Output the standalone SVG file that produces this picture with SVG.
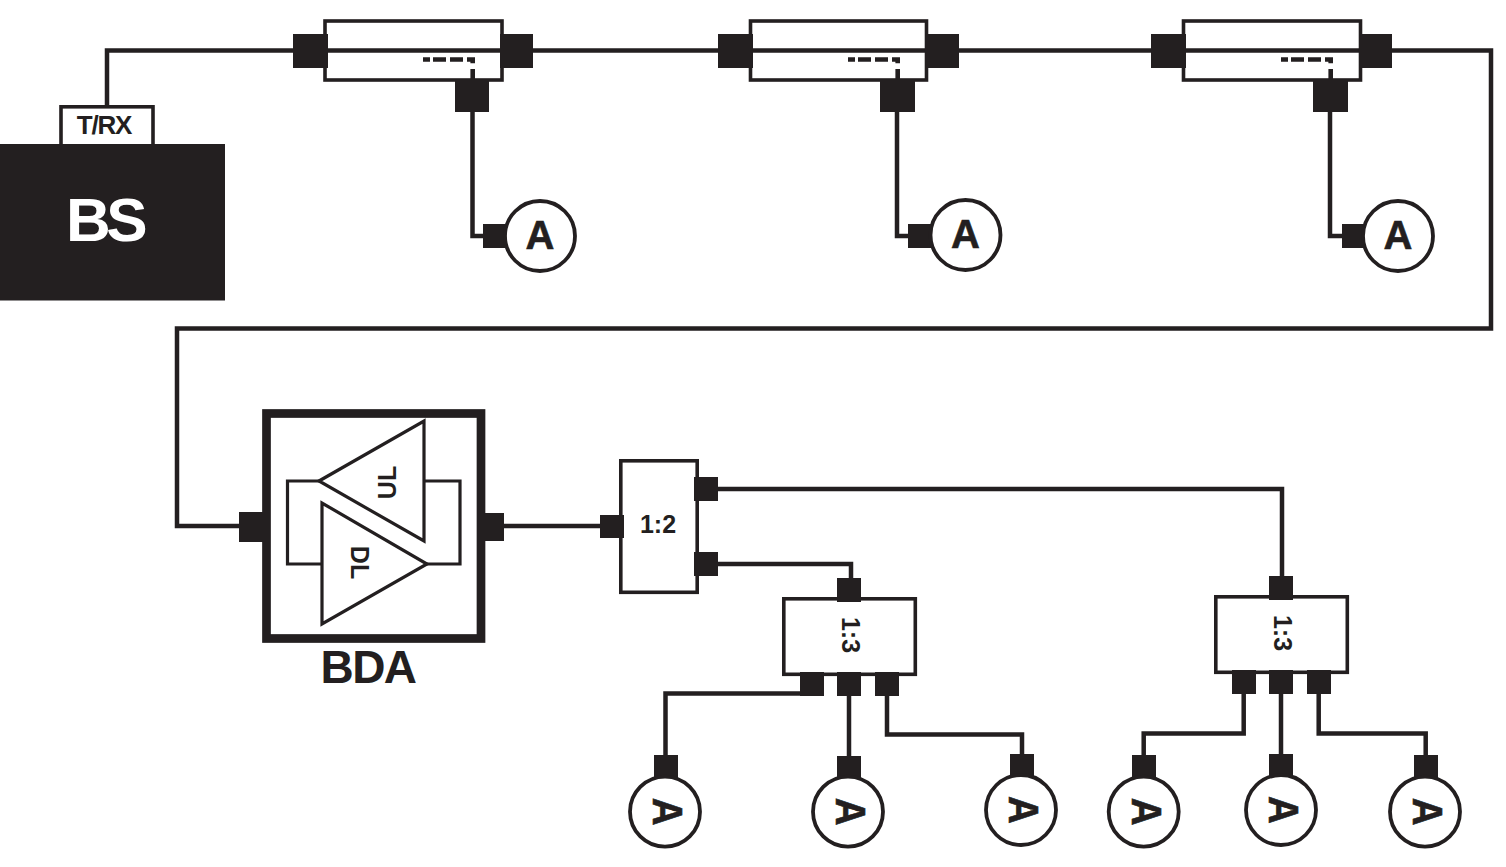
<svg xmlns="http://www.w3.org/2000/svg" width="1506" height="867" viewBox="0 0 1506 867">
<style>
.bg{fill:#fff}
.ln{fill:none;stroke:#231f20;stroke-width:4.5;stroke-linejoin:miter}
.box{fill:#fff;stroke:#231f20;stroke-width:3.6}
.open{fill:none;stroke:#231f20;stroke-width:3.6}
.thin{fill:none;stroke:#231f20;stroke-width:3.2;stroke-linejoin:miter}
.port{fill:#231f20}
.ant{fill:#fff;stroke:#231f20;stroke-width:3.8}
text{font-family:"Liberation Sans",Arial,sans-serif;font-weight:700;fill:#231f20;text-anchor:middle}
.a{font-size:40px;stroke:#231f20;stroke-width:.6}
.a2{font-size:42px;stroke:#231f20;stroke-width:.6}
.r{font-size:25px}
.tag{font-size:25px}
</style>
<defs>
<g id="dash">
<path class="port" d="M423 57.200h7v4.600h-7zM433 57.200h13v4.600h-13zM450 57.200h13v4.600h-13zM467 57.200h8v6h-4.600v-1.400H467zM470.400 69h4.600v10h-4.600z"/>
</g>
<g id="antenna">
<circle class="ant" r="35"/>
<text class="a" y="12.500">A</text>
</g>
<g id="antennaR">
<circle class="ant" r="35"/>
<text class="a2" y="12" transform="rotate(90) scale(.92 1)">A</text>
</g>
</defs>
<rect class="bg" width="1506" height="867"/>
<g id="connectors">
<path class="ln" d="M107 106V50.500H1491V328.500H177V526H240"/>
<path class="ln" d="M472.500 112V236H484"/>
<path class="ln" d="M897 112V236H909"/>
<path class="ln" d="M1330 112V236H1343"/>
<path class="ln" d="M504 526H601"/>
<path class="ln" d="M718 489H1282V577"/>
<path class="ln" d="M718 564H851V579"/>
<path class="ln" d="M801 693.500H665.500V756"/>
<path class="ln" d="M849 696V757"/>
<path class="ln" d="M887 696V734.500H1022V755"/>
<path class="ln" d="M1243.700 694V733.500H1143.700V756"/>
<path class="ln" d="M1281 694V755"/>
<path class="ln" d="M1318.700 694V733.500H1425.700V756"/>
</g>
<g id="bs">
<rect class="box" x="61" y="106.800" width="92" height="40"/>
<text x="104" y="134" font-size="26" letter-spacing="-1.200">T/RX</text>
<rect class="port" x="0" y="144" width="225" height="156.500"/>
<text x="104.500" y="241" font-size="62" letter-spacing="-4.500" style="fill:#fff">BS</text>
</g>
<g id="coupler-1">
<rect class="open" x="325" y="21" width="177" height="59"/>
<use href="#dash"/>
<rect class="port" x="293" y="34" width="35" height="34"/>
<rect class="port" x="500" y="34" width="33" height="34"/>
<rect class="port" x="455" y="80" width="34" height="32"/>
</g>
<g id="coupler-2">
<rect class="open" x="750.500" y="21" width="176" height="59"/>
<use href="#dash" x="425"/>
<rect class="port" x="718" y="34" width="35" height="34"/>
<rect class="port" x="925" y="34" width="34" height="34"/>
<rect class="port" x="880" y="80" width="35" height="32"/>
</g>
<g id="coupler-3">
<rect class="open" x="1183.500" y="21" width="177" height="59"/>
<use href="#dash" x="858"/>
<rect class="port" x="1151" y="34" width="35" height="34"/>
<rect class="port" x="1359" y="34" width="33" height="34"/>
<rect class="port" x="1313" y="80" width="35" height="32"/>
</g>
<g id="antenna-1">
<rect class="port" x="483" y="224" width="26" height="24"/>
<use href="#antenna" x="540" y="236"/>
</g>
<g id="antenna-2">
<rect class="port" x="908" y="224" width="26" height="24"/>
<use href="#antenna" x="965.500" y="235"/>
</g>
<g id="antenna-3">
<rect class="port" x="1342" y="224" width="26" height="24"/>
<use href="#antenna" x="1398" y="236"/>
</g>
<g id="bda">
<rect class="box" x="266.500" y="413.500" width="214.500" height="225" style="stroke-width:8.700"/>
<path class="thin" d="M319 481H287.500V564H322"/>
<path class="thin" d="M424 481H460V564H427"/>
<path class="thin" d="M319 481L424 421V541Z"/>
<path class="thin" d="M322 503V624L427 564Z"/>
<text class="tag" transform="translate(396 482.500) rotate(-90)">UL</text>
<text class="tag" transform="translate(350.500 562.500) rotate(90)">DL</text>
<rect class="port" x="239" y="512" width="27" height="30"/>
<rect class="port" x="484" y="513" width="20" height="28"/>
<text x="368" y="683" font-size="46" letter-spacing="-1.500">BDA</text>
</g>
<g id="splitter-1-2">
<rect class="box" x="620.800" y="460.800" width="76.400" height="131.500"/>
<text class="r" x="658" y="533">1:2</text>
<rect class="port" x="600" y="515" width="24" height="23"/>
<rect class="port" x="694" y="477" width="24" height="24"/>
<rect class="port" x="694" y="552" width="24" height="24"/>
</g>
<g id="splitter-1-3-a">
<rect class="box" x="783.800" y="598.800" width="131.500" height="75.500"/>
<text class="r" transform="translate(841.500 635) rotate(90)">1:3</text>
<rect class="port" x="837" y="578" width="24" height="24"/>
<rect class="port" x="800" y="672" width="24" height="24"/>
<rect class="port" x="837" y="672" width="24" height="24"/>
<rect class="port" x="875" y="672" width="24" height="24"/>
</g>
<g id="splitter-1-3-b">
<rect class="box" x="1215.800" y="596.800" width="131.500" height="75.500"/>
<text class="r" transform="translate(1274 633) rotate(90)">1:3</text>
<rect class="port" x="1269" y="576" width="24" height="24"/>
<rect class="port" x="1232" y="670" width="24" height="24"/>
<rect class="port" x="1269" y="670" width="24" height="24"/>
<rect class="port" x="1307" y="670" width="24" height="24"/>
</g>
<g id="antenna-4"><rect class="port" x="654" y="755" width="24" height="26"/><use href="#antennaR" x="665" y="811.700"/></g>
<g id="antenna-5"><rect class="port" x="837" y="756" width="24" height="26"/><use href="#antennaR" x="848" y="811.700"/></g>
<g id="antenna-6"><rect class="port" x="1010" y="754" width="24" height="26"/><use href="#antennaR" x="1021" y="810"/></g>
<g id="antenna-7"><rect class="port" x="1132" y="755" width="24" height="26"/><use href="#antennaR" x="1143.700" y="811.700"/></g>
<g id="antenna-8"><rect class="port" x="1269" y="754" width="24" height="26"/><use href="#antennaR" x="1281" y="810"/></g>
<g id="antenna-9"><rect class="port" x="1414" y="755" width="24" height="26"/><use href="#antennaR" x="1425" y="811.700"/></g>
</svg>
